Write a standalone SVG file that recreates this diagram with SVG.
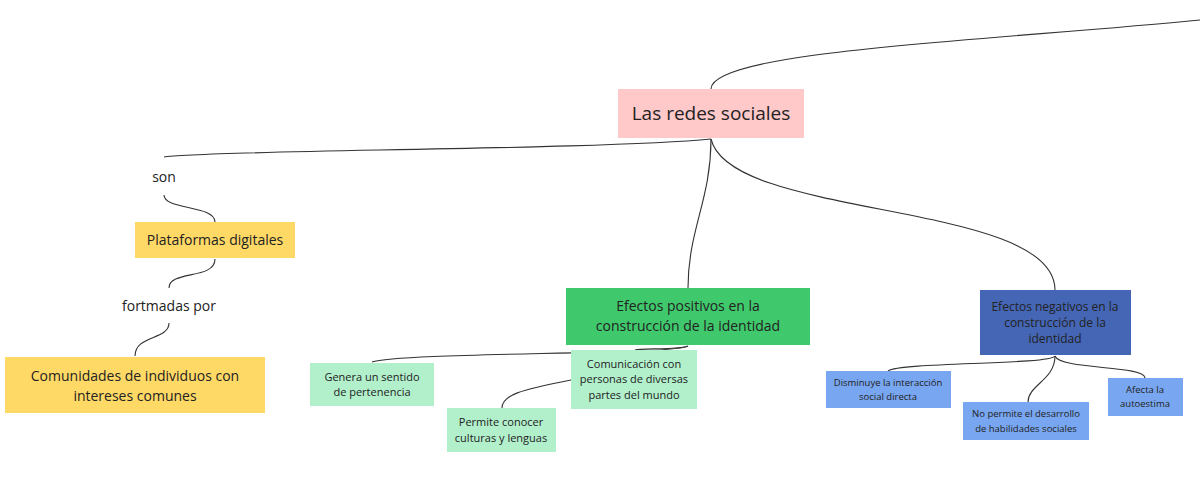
<svg xmlns="http://www.w3.org/2000/svg" width="1200" height="496" viewBox="0 0 1200 496">
<style>
text{font-family:"Open Sans","Noto Sans",sans-serif;fill:#222;text-anchor:middle}
.c path{fill:none;stroke:#333;stroke-width:1.1}
.s{font-size:11px}.m{font-size:14px}
</style>
<rect width="1200" height="496" fill="#fff"/>
<g class="c" id="connectors">
<path d="M711,89 C711,50 1000,40 1200,20"/>
<path d="M711,139 C600,150 200,150 164,157"/>
<path d="M164,195 C164,210 215,205 215,222"/>
<path d="M215,259 C215,280 169,270 169,288"/>
<path d="M169,323 C169,340 135,335 135,356"/>
<path d="M711,139 C711,200 688,230 688,288"/>
<path d="M711,139 C730,220 1055,200 1055,290"/>
<path d="M688,346 C680,355 400,352 372,362"/>
<path d="M688,346 C680,350 640,348 635,350"/>
<path d="M571,380 C520,390 502,395 502,408"/>
<path d="M1055,356 C1050,365 900,362 888,371"/>
<path d="M1055,356 C1055,380 1028,385 1028,402"/>
<path d="M1055,356 C1060,370 1145,365 1145,378"/>
</g>
<g id="n-redes"><rect x="618" y="89" width="186" height="49" fill="#ffc9c9"/><text x="711" y="120" font-size="19">Las redes sociales</text></g>
<text x="164" y="182" class="m">son</text>
<g id="n-plataformas"><rect x="135" y="222" width="160" height="36" fill="#ffd966"/><text x="215" y="245" class="m">Plataformas digitales</text></g>
<text x="169" y="311" class="m">fortmadas por</text>
<g id="n-comunidades"><rect x="5" y="357" width="260" height="56" fill="#ffd966"/><text x="135" y="381" class="m">Comunidades de individuos con</text><text x="135" y="401" class="m">intereses comunes</text></g>
<g id="n-positivos"><rect x="566" y="288" width="244" height="57" fill="#3fc96c"/><text x="688" y="311" class="m">Efectos positivos en la</text><text x="688" y="331" class="m">construcción de la identidad</text></g>
<g id="n-negativos"><rect x="980" y="290" width="151" height="65" fill="#4566b5"/><text x="1055" y="311" font-size="12">Efectos negativos en la</text><text x="1055" y="327" font-size="12">construcción de la</text><text x="1055" y="343" font-size="12">identidad</text></g>
<g id="n-genera"><rect x="310" y="363" width="124" height="43" fill="#b2f0cc"/><text x="372" y="381" class="s">Genera un sentido</text><text x="372" y="396" class="s">de pertenencia</text></g>
<g id="n-comunicacion"><rect x="571" y="350" width="126" height="59" fill="#b2f0cc"/><text x="634" y="368" class="s">Comunicación con</text><text x="634" y="383" class="s">personas de diversas</text><text x="634" y="399" class="s">partes del mundo</text></g>
<g id="n-permite"><rect x="447" y="408" width="109" height="44" fill="#b2f0cc"/><text x="501" y="426" class="s">Permite conocer</text><text x="501" y="442" class="s">culturas y lenguas</text></g>
<g id="n-disminuye"><rect x="826" y="371" width="125" height="37" fill="#78a6f0"/><text x="888" y="386" font-size="9.5">Disminuye la interacción</text><text x="888" y="400" font-size="9.5">social directa</text></g>
<g id="n-nopermite"><rect x="963" y="402" width="126" height="38" fill="#78a6f0"/><text x="1026" y="417" font-size="9.5">No permite el desarrollo</text><text x="1026" y="432" font-size="9.5">de habilidades sociales</text></g>
<g id="n-afecta"><rect x="1108" y="378" width="75" height="38" fill="#78a6f0"/><text x="1145" y="393" font-size="9.5">Afecta la</text><text x="1145" y="407" font-size="9.5">autoestima</text></g>
</svg>
